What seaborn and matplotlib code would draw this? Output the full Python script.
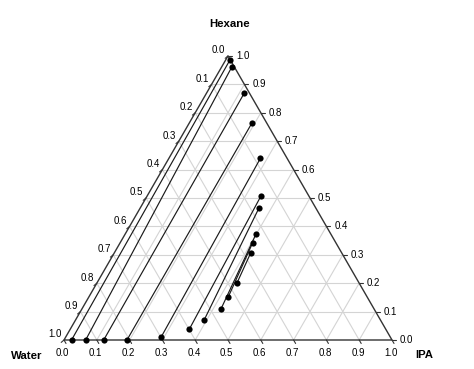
import numpy as np
import pandas as pd
import matplotlib
matplotlib.use("Agg")
import matplotlib.pyplot as plt
import seaborn as sns

# Ternary data (mass fractions). Water = 1 - IPA - Hexane
# Upper (hexane-rich) phase
upper_ipa = [0.013, 0.031, 0.115, 0.191, 0.279, 0.347, 0.362, 0.399, 0.404, 0.416]
upper_hex = [0.986, 0.962, 0.869, 0.763, 0.639, 0.507, 0.466, 0.372, 0.343, 0.306]
# Lower (water-rich) phase
lower_ipa = [0.023, 0.066, 0.121, 0.192, 0.291, 0.363, 0.392, 0.424, 0.425, 0.427]
lower_hex = [0.000, 0.000, 0.000, 0.000, 0.011, 0.039, 0.072, 0.109, 0.152, 0.201]

tick_values = [0.0, 0.1, 0.2, 0.3, 0.4, 0.5, 0.6, 0.7, 0.8, 0.9, 1.0]
tick_labels = ["0.0", "0.1", "0.2", "0.3", "0.4", "0.5", "0.6", "0.7", "0.8", "0.9", "1.0"]
corner_labels = ["Water", "IPA", "Hexane"]

H = np.sqrt(3) / 2


def to_xy(ipa, hexane):
    ipa = np.asarray(ipa, dtype=float)
    hexane = np.asarray(hexane, dtype=float)
    return ipa + hexane / 2, hexane * H


sns.set_style("white")
plt.rcParams["font.family"] = ["Liberation Sans", "DejaVu Sans"]
plt.rcParams["text.color"] = "black"

fig = plt.figure(figsize=(4.74, 3.69), dpi=100)
ax = fig.add_axes([0, 0, 1, 1])
ax.set_xlim(-64 / 328, (474 - 64) / 328)
ax.set_ylim(-(369 - 340) / 328, 340 / 328)
ax.set_aspect("equal", adjustable="box")
ax.axis("off")

grid_c = "#d4d4d4"
for v in tick_values[1:-1]:
    # hexane constant (horizontal)
    x, y = to_xy([0, 1 - v], [v, v])
    ax.plot(x, y, color=grid_c, lw=0.8, zorder=1)
    # ipa constant
    x, y = to_xy([v, v], [0, 1 - v])
    ax.plot(x, y, color=grid_c, lw=0.8, zorder=1)
    # water constant: ipa + hex = 1 - v
    x, y = to_xy([1 - v, 0], [0, 1 - v])
    ax.plot(x, y, color=grid_c, lw=0.8, zorder=1)

# Triangle edges
x, y = to_xy([0, 1, 0, 0], [0, 0, 1, 0])
ax.plot(x, y, color="#333333", lw=1.0, zorder=2, solid_capstyle="butt")

fs = 7
tl = 4 / 328
for v, lab in zip(tick_values, tick_labels):
    # bottom axis: IPA
    x0, y0 = to_xy(v, 0)
    ax.plot([x0, x0 + 0.5 * tl], [y0, y0 - H * tl], color="#333333", lw=0.8)
    ax.text(x0 - 0.004, y0 - 0.040, lab, ha="center", va="center", fontsize=fs, color="black")
    # right axis: Hexane
    x0, y0 = to_xy(1 - v, v)
    ax.plot([x0, x0 + tl], [y0, y0], color="#333333", lw=0.8)
    ax.text(x0 + 0.024, y0, lab, ha="left", va="center", fontsize=fs, color="black")
    # left axis: Water
    x0, y0 = to_xy(0, 1 - v)
    ax.plot([x0, x0 - 0.7 * tl], [y0, y0 - 0.6 * tl], color="#333333", lw=0.8)
    ax.text(x0 - 0.008, y0 + 0.017, lab, ha="right", va="center", fontsize=fs, color="black")

ax.text(-0.113, -0.049, corner_labels[0], ha="center", va="center", fontsize=8.2,
        fontweight="bold", color="black")
ax.text(1.097, -0.046, corner_labels[1], ha="center", va="center", fontsize=8.2,
        fontweight="bold", color="black")
ax.text(0.504, 0.963, corner_labels[2], ha="center", va="center", fontsize=8.2,
        fontweight="bold", color="black")

# Tie lines data frame
rows = []
for i in range(len(upper_ipa)):
    for phase, ipa, hx in (("lower", lower_ipa[i], lower_hex[i]), ("upper", upper_ipa[i], upper_hex[i])):
        x, y = to_xy(ipa, hx)
        rows.append({"tie": i, "phase": phase, "x": float(x), "y": float(y)})
df = pd.DataFrame(rows)

sns.lineplot(data=df, x="x", y="y", units="tie", estimator=None, sort=False,
             color="#1a1a1a", lw=0.85, ax=ax, zorder=3, legend=False)
sns.scatterplot(data=df, x="x", y="y", color="black", s=20, edgecolor="black",
                linewidth=0, ax=ax, zorder=4, legend=False)
ax.set_xlabel("")
ax.set_ylabel("")
ax.axis("off")

fig.savefig("out.png", dpi=100)
